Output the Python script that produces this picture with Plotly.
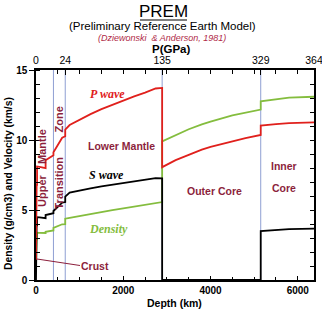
import plotly.graph_objects as go

# PREM profile (depth km, Vp km/s, Vs km/s, density g/cm3)
depth_km = [0, 3, 3, 15, 15, 24.4, 24.4, 80, 220, 220, 400, 400, 600, 670, 670, 771,
            1000, 1250, 1500, 1750, 2000, 2250, 2500, 2741, 2891, 2891,
            3200, 3500, 3800, 4000, 4500, 4800, 5150, 5150, 5500, 5800, 6371]
vp = [1.45, 1.45, 5.8, 5.8, 6.8, 6.8, 8.11, 8.08, 7.99, 8.56, 8.91, 9.13, 10.16, 10.27, 10.75, 11.07,
      11.46, 11.85, 12.20, 12.52, 12.82, 13.11, 13.39, 13.68, 13.72, 8.06,
      8.56, 8.96, 9.31, 9.51, 9.93, 10.14, 10.36, 11.03, 11.14, 11.21, 11.26]
vs = [0.0, 0.0, 3.2, 3.2, 3.9, 3.9, 4.49, 4.47, 4.42, 4.64, 4.77, 4.93, 5.52, 5.57, 5.95, 6.24,
      6.40, 6.55, 6.69, 6.81, 6.93, 7.05, 7.16, 7.27, 7.26, 0.0,
      0.0, 0.0, 0.0, 0.0, 0.0, 0.0, 0.0, 3.50, 3.59, 3.63, 3.67]
rho = [1.02, 1.02, 2.6, 2.6, 2.9, 2.9, 3.38, 3.37, 3.36, 3.44, 3.54, 3.72, 3.98, 3.99, 4.38, 4.44,
       4.58, 4.72, 4.86, 4.99, 5.12, 5.25, 5.37, 5.49, 5.57, 9.90,
       10.37, 10.77, 11.12, 11.32, 11.76, 11.97, 12.17, 12.76, 12.92, 13.02, 13.09]

boundaries_km = [400, 670, 2891, 5150]
pressure_depths = [0, 670, 2891, 5150, 6371]
pressure_labels = ["0", "24", "135", "329", "364"]

RED = "#e0201c"
GREEN = "#84bd3e"
DARK = "#8c1f3c"
BLUE = "#8f9fd3"

fig = go.Figure()
fig.add_trace(go.Scatter(x=depth_km, y=rho, mode="lines", line=dict(color=GREEN, width=1.8), hoverinfo="skip"))
fig.add_trace(go.Scatter(x=depth_km, y=vs, mode="lines", line=dict(color="black", width=1.8), hoverinfo="skip"))
fig.add_trace(go.Scatter(x=depth_km, y=vp, mode="lines", line=dict(color=RED, width=1.8), hoverinfo="skip"))
# helper traces to activate the top and right axes
fig.add_trace(go.Scatter(x=[depth_km[0], depth_km[-1]], y=[0, 0], xaxis="x2", yaxis="y",
                         mode="lines", opacity=0, hoverinfo="skip"))
fig.add_trace(go.Scatter(x=[depth_km[0], depth_km[-1]], y=[0, 0], xaxis="x", yaxis="y2",
                         mode="lines", opacity=0, hoverinfo="skip"))

for b in boundaries_km:
    fig.add_shape(type="line", xref="x", yref="paper", x0=b, x1=b, y0=0, y1=1,
                  line=dict(color=BLUE, width=1), layer="below")

XR = [0, 6371]
font_b = dict(family="Liberation Sans, Arial", size=10, color="black")

fig.update_layout(
    width=322, height=311,
    margin=dict(l=36, r=8, t=70, b=31, autoexpand=False),
    paper_bgcolor="white", plot_bgcolor="white",
    showlegend=False,
    xaxis=dict(range=XR, tickvals=[0, 2000, 4000, 6000], ticktext=["<b>0</b>", "<b>2000</b>", "<b>4000</b>", "<b>6000</b>"],
               ticks="inside", ticklen=4, tickwidth=1, tickcolor="black",
               minor=dict(dtick=500, tick0=0, ticks="inside", ticklen=3, tickcolor="black"),
               showline=True, linecolor="black", linewidth=1.5, showgrid=False, zeroline=False,
               tickfont=font_b, ticklabeloverflow="allow"),
    xaxis2=dict(range=XR, overlaying="x", side="top", anchor="y",
                tickvals=pressure_depths, ticktext=pressure_labels,
                ticks="inside", ticklen=5, tickwidth=1, tickcolor="black",
                minor=dict(dtick=500, tick0=0, ticks="inside", ticklen=4, tickcolor="black"),
                showline=True, linecolor="black", linewidth=1.5, showgrid=False, zeroline=False,
                tickfont=dict(family="Liberation Sans, Arial", size=10.5, color="black"),
                ticklabeloverflow="allow"),
    yaxis=dict(range=[0, 15], tickvals=[0, 5, 10, 15], ticktext=["<b>0</b>", "<b>5</b>", "<b>10</b>", "<b>15</b>"],
               ticks="outside", ticklen=5, tickwidth=1, tickcolor="black",
               minor=dict(dtick=1, tick0=0, ticks="inside", ticklen=4, tickcolor="black"),
               showline=True, linecolor="black", linewidth=1.5, showgrid=False, zeroline=False,
               tickfont=font_b),
    yaxis2=dict(range=[0, 15], overlaying="y", side="right", anchor="x",
                dtick=1, ticks="inside", ticklen=4, tickcolor="black", showticklabels=False,
                showline=True, linecolor="black", linewidth=1.5, showgrid=False, zeroline=False),
)

# plot area in page pixels
X0, X1, Y0, Y1 = 36, 314, 70, 280


def px(x):
    return (x - X0) / (X1 - X0)


def py(y):
    return (Y1 - y) / (Y1 - Y0)


def ann(text, x, y, size, color="black", family="Liberation Sans, Arial", angle=0):
    fig.add_annotation(text=text, x=px(x), y=py(y), xref="paper", yref="paper",
                       showarrow=False, xanchor="center", yanchor="middle", textangle=angle,
                       font=dict(family=family, size=size, color=color))


ann("PREM", 163, 11, 17)
fig.add_shape(type="line", xref="paper", yref="paper", x0=px(140), x1=px(187), y0=py(20), y1=py(20),
              line=dict(color="black", width=1.2))
ann("(Preliminary Reference Earth Model)", 162, 26, 11.5)
ann("<i>(Dziewonski  &amp; Anderson, 1981)</i>", 162, 38, 9, color="#b02a48")
ann("<b>P(GPa)</b>", 171, 49, 11.5)
ann("<b>Depth (km)</b>", 174, 303, 10.5)
ann("<b>Density (g/cm3) and Velocity (km/s)</b>", 8, 184, 10.3, angle=-90)

serif = "Liberation Serif, Times New Roman"
ann("<b><i>P wave</i></b>", 107, 94, 12, color=RED, family=serif)
ann("<b>Lower Mantle</b>", 121, 146, 10.5, color=DARK)
ann("<b><i>S wave</i></b>", 106, 175, 12, color="black", family=serif)
ann("<b><i>Density</i></b>", 108, 229, 12, color=GREEN, family=serif)
ann("<b>Crust</b>", 95, 266, 10.5, color=DARK)
ann("<b>Outer Core</b>", 214, 191, 10.5, color=DARK)
ann("<b>Inner</b>", 284, 166, 10.5, color=DARK)
ann("<b>Core</b>", 284, 188, 10.5, color=DARK)
ann("<b>Upper</b>", 42, 191, 11, color=DARK, angle=-90)
ann("<b>Mantle</b>", 42, 147, 11, color=DARK, angle=-90)
ann("<b>Transition</b>", 58.5, 183, 11, color=DARK, angle=-90)
ann("<b>Zone</b>", 58.5, 120, 11, color=DARK, angle=-90)

fig.add_shape(type="line", xref="paper", yref="paper", x0=px(37), y0=py(259), x1=px(80), y1=py(265.5),
              line=dict(color=DARK, width=1))

fig.write_html("out.html", config={"displayModeBar": False},
               post_script="document.body.style.margin='0';document.body.style.overflow='hidden';")
